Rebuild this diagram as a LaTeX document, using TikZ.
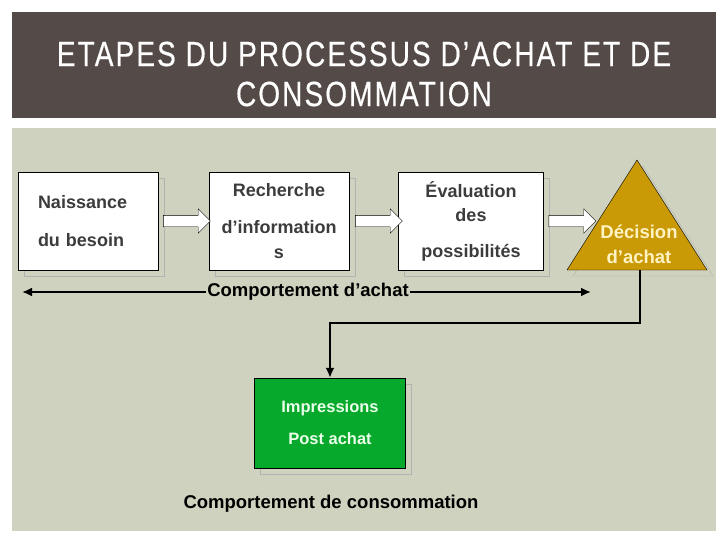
\documentclass[tikz,border=0pt]{standalone}
\usepackage{fontspec}
\setmainfont{Liberation Sans}
\newfontfamily\titlefont[LetterSpace=6,FakeStretch=0.8,FakeBold=0.4]{Liberation Sans}
\usetikzlibrary{arrows.meta,shapes.arrows,shadows,calc}
\definecolor{titlebg}{HTML}{544B48}
\definecolor{panelbg}{HTML}{CFD2BE}
\definecolor{gold}{HTML}{C99A05}
\definecolor{goldtext}{HTML}{FFF3C4}
\definecolor{impgreen}{HTML}{06A92B}
\definecolor{boxtext}{HTML}{3C3C3C}
\begin{document}
\begin{tikzpicture}[x=1pt,y=-1pt]
    \tikzstyle{step box}=[rectangle,draw=black,fill=white,minimum width=140pt,minimum height=98pt,inner sep=0pt,
        text=boxtext,font=\fontsize{18}{21}\selectfont\bfseries,
        copy shadow={shadow xshift=6pt,shadow yshift=-6pt,draw=black!30,fill=panelbg}]
    \tikzstyle{block}=[single arrow,draw=black,fill=white,thin,minimum height=47pt,inner sep=0pt,
        text height=11pt,text depth=0pt,text width=0pt,single arrow head extend=6.5pt]
    \tikzstyle{label}=[font=\fontsize{18.5}{22}\selectfont\bfseries,text=black,inner sep=1pt]
    \tikzstyle{flow}=[line width=2.6pt,-{Latex[length=10pt,width=9pt]}]
    \useasboundingbox (0,0) rectangle (728,546);
    \fill[white] (0,0) rectangle (728,546);
    % title and panel
    \fill[titlebg] (12,12) rectangle (716,118);
    \fill[panelbg] (12,128) rectangle (716,531);
    \node (title) at (364,74) [text=white,align=center,font=\titlefont\fontsize{35}{40}\selectfont]
        {ETAPES DU PROCESSUS D’ACHAT ET DE\\CONSOMMATION};
    % steps
    \node (naiss) at (88,221)  [step box,text width=100pt,align=left] {Naissance\\[17pt]du besoin};
    \node (rech)  at (279,221) [step box,align=center] {Recherche\\[16pt]d'information\\[4pt]s};
    \node (eval)  at (471,221) [step box,minimum width=145pt,align=center] {Évaluation\\[3pt]des\\[15pt]possibilités};
    \node (arr1) at ([xshift=5pt]naiss.east) [block,anchor=tail] {};
    \node (arr2) at ([xshift=6pt]rech.east)  [block,anchor=tail] {};
    \node (arr3) at ([xshift=5pt]eval.east)  [block,anchor=tail] {};
    % decision
    \draw[draw=black!30] (643,166) -- (713,276) -- (573,276) -- cycle;
    \draw[fill=gold,draw=black,thin] (637,160) -- (707,270) -- (567,270) -- cycle;
    \node (decision) at (639,244) [align=center,text=goldtext,font=\fontsize{18.5}{25}\selectfont\bfseries] {Décision\\d'achat};
    \coordinate (decbase) at (640,270);
    % behaviour
    \node (achat) at (308,292) [label] {Comportement d'achat};
    \coordinate (achatL) at (22,292);
    \coordinate (achatR) at (591,292);
    \draw[flow] (achat.west) -- (achatL);
    \draw[flow] (achat.east) -- (achatR);
    \node (impr) at (330,423) [rectangle,draw=black,fill=impgreen,minimum width=151pt,minimum height=90pt,
        text=white!92!green,align=center,font=\fontsize{16.5}{32}\selectfont\bfseries,
        copy shadow={shadow xshift=6pt,shadow yshift=-6pt,draw=black!30,fill=panelbg}] {Impressions\\Post achat};
    \draw[flow] (decbase) -- ++(0,53) -| (impr.north);
    \node (conso) at (331,504) [label] {Comportement de consommation};
\end{tikzpicture}
\end{document}
